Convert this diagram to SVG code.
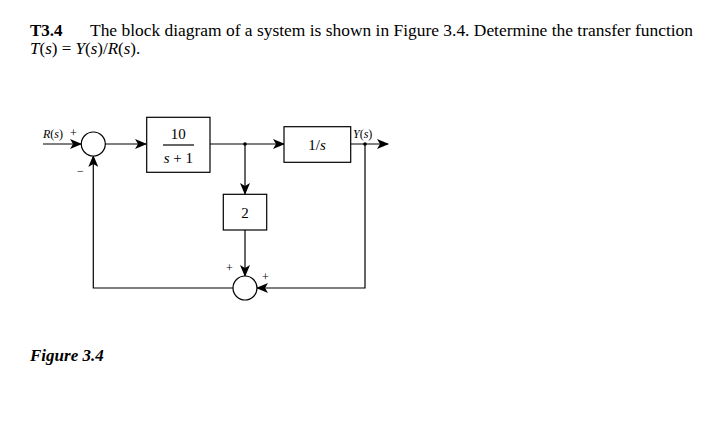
<svg xmlns="http://www.w3.org/2000/svg" width="715" height="425" viewBox="0 0 715 425">
<style>
text{font-family:"Liberation Serif",serif;fill:#000}
.t{font-size:17px}
.s{font-size:15px}
.p{font-size:12px}
.b{fill:#fff;stroke:#000;stroke-width:1.2}
.w{fill:none;stroke:#000;stroke-width:1.2}
</style>
<defs><marker id="a" viewBox="0 0 12 10" refX="11" refY="5" markerWidth="12" markerHeight="10" markerUnits="userSpaceOnUse" orient="auto"><path d="M0,0 L12,5 L0,10 L3,5 Z" fill="#000"/></marker></defs>
<rect width="715" height="425" fill="#fff"/>
<text class="t" x="30" y="36" font-weight="bold">T3.4</text>
<text class="t" x="90" y="36" textLength="603" lengthAdjust="spacingAndGlyphs">The block diagram of a system is shown in Figure 3.4. Determine the transfer function</text>
<text class="t" x="30" y="54"><tspan font-style="italic">T</tspan>(<tspan font-style="italic">s</tspan>) = <tspan font-style="italic">Y</tspan>(<tspan font-style="italic">s</tspan>)/<tspan font-style="italic">R</tspan>(<tspan font-style="italic">s</tspan>).</text>
<text class="t" x="30" y="361" font-weight="bold" font-style="italic">Figure 3.4</text>
<g id="connectors">
<line class="w" x1="43" y1="144" x2="81" y2="144" marker-end="url(#a)"/>
<line class="w" x1="105" y1="144" x2="146" y2="144" marker-end="url(#a)"/>
<line class="w" x1="210" y1="144" x2="284" y2="144" marker-end="url(#a)"/>
<line class="w" x1="351" y1="144" x2="388" y2="144" marker-end="url(#a)"/>
<line class="w" x1="245" y1="144" x2="245" y2="194" marker-end="url(#a)"/>
<line class="w" x1="245" y1="230" x2="245" y2="276" marker-end="url(#a)"/>
<polyline class="w" points="365,144 365,288 257,288" marker-end="url(#a)"/>
<polyline class="w" points="233,288 93.3,288 93.3,156" marker-end="url(#a)"/>
<circle cx="245" cy="144" r="1.8"/>
<circle cx="365" cy="144" r="1.8"/>
</g>
<g id="sum1"><circle class="b" cx="93.3" cy="144" r="12"/></g>
<g id="g1"><rect class="b" x="146.7" y="117.3" width="63.3" height="55"/>
<text class="s" x="178.3" y="139" text-anchor="middle">10</text>
<line class="w" x1="163" y1="145" x2="194" y2="145"/>
<text class="s" x="178.3" y="163" text-anchor="middle"><tspan font-style="italic">s</tspan> + 1</text></g>
<g id="g2"><rect class="b" x="284" y="126.7" width="66.7" height="35.6"/>
<text class="s" x="317" y="150" text-anchor="middle">1/<tspan font-style="italic">s</tspan></text></g>
<g id="g3"><rect class="b" x="223.3" y="194.3" width="43.4" height="35.7"/>
<text class="s" x="245" y="218" text-anchor="middle">2</text></g>
<g id="sum2"><circle class="b" cx="245" cy="288" r="12"/></g>
<text class="p" x="43" y="138"><tspan font-style="italic">R</tspan>(<tspan font-style="italic">s</tspan>)</text>
<text class="p" x="70" y="137">+</text>
<text class="p" x="77" y="175">−</text>
<text class="p" x="353" y="138"><tspan font-style="italic">Y</tspan>(<tspan font-style="italic">s</tspan>)</text>
<text class="p" x="226" y="272">+</text>
<text class="p" x="262" y="281">+</text>
</svg>
